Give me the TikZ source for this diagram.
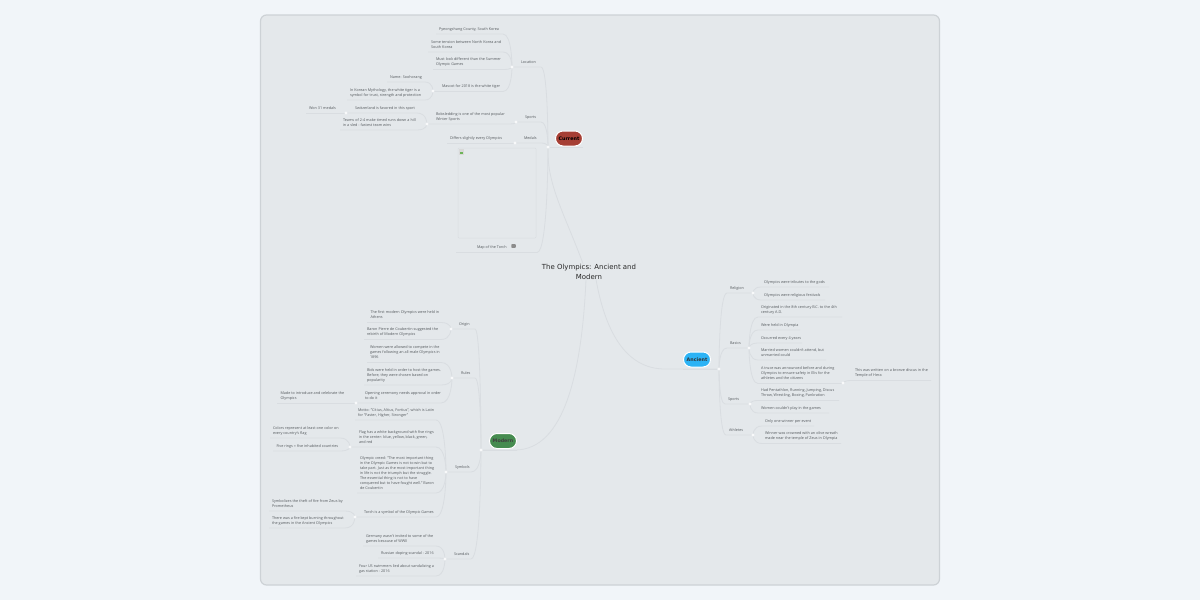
\documentclass[tikz,border=0pt]{standalone}
\usepackage{fontspec}
\setmainfont{Open Sans}
\newfontfamily\titlefont{DejaVu Sans}
\definecolor{pagebg}{HTML}{F1F5F9}
\definecolor{panelbg}{HTML}{E4E8EB}
\definecolor{panelline}{HTML}{CDD2D6}
\definecolor{linkc}{HTML}{D9DDE1}
\definecolor{leaftext}{HTML}{555A5E}
\definecolor{curfill}{HTML}{A63F35}
\definecolor{modfill}{HTML}{468C50}
\definecolor{ancfill}{HTML}{2CB3F5}
\pgfdeclarelayer{lines}
\pgfsetlayers{lines,main}
\tikzset{
  leaf/.style={inner xsep=0pt,inner ysep=2.1pt,outer sep=0pt,text=leaftext,font=\fontsize{3.75}{5}\selectfont},
  jdot/.style={circle,fill=white!75!panelbg,draw=none,inner sep=0pt,minimum size=3.4pt},
  link/.style={draw=linkc,line width=.8pt},
  branch/.style={rounded corners=7.5pt,draw=white,line width=1pt,minimum width=27pt,minimum height=15pt,inner sep=0pt,font=\titlefont\bfseries\fontsize{4.8}{7}\selectfont},
}
\newcommand\leafn[6]{%
  \pgfmathsetmacro\lw{#3-#2}\pgfmathsetmacro\lh{#5-#2}%
  \node[leaf,anchor=south west] (#1) at (#2,#4) {\makebox[\lw pt][l]{\hspace{\lh pt}\begin{tabular}{@{}l@{}}#6\end{tabular}}};}
\newcommand\jn[3]{\node[jdot] (#1) at (#2,#3) {};}
% link from a node's underline, running rightwards into a dot
\newcommand\lkr[2]{\draw[link] (#1.south west) -- (#1.south east) .. controls (#2 |- #1.south east) and (#2) .. (#2);}
% link running leftwards into a dot
\newcommand\lkl[2]{\draw[link] (#1.south east) -- (#1.south west) .. controls (#2 |- #1.south west) and (#2) .. (#2);}
\begin{document}
\begin{tikzpicture}[x=1pt,y=-1pt]
\useasboundingbox (0,0) rectangle (1200,600);
% dots
\jn{jc}{548}{147}\jn{jm}{481}{450}\jn{ja}{719}{369}
\jn{dloc}{512}{67}\jn{dsp}{516}{122}\jn{dmed}{515}{143}
\jn{dmas}{433}{91}\jn{dbob}{427}{124}\jn{dsw}{346}{113}
\jn{dori}{451}{329}\jn{drul}{452}{378}\jn{dsym}{446}{472}\jn{dsca}{445}{559}
\jn{dcer}{356}{403}\jn{dflag}{350}{447}\jn{dtor}{355}{517}
\jn{drel}{753}{293}\jn{dbas}{749}{348}\jn{dasp}{750}{404}\jn{dath}{753}{435}\jn{dtru}{843}{383}
% root and branches
\node[align=center,inner sep=0pt,text=black!85,font=\titlefont\fontsize{6.95}{10}\selectfont] (root) at (589,271.5) {The Olympics: Ancient and\\Modern};
\node[branch,fill=curfill,text=black] (cur) at (569,138.5) {Current};
\node[branch,fill=modfill,text=black!75] (mod) at (503,441) {Modern};
\node[branch,fill=ancfill,text=black!80] (anc) at (697,359.5) {Ancient};
% Current
\leafn{loc}{512}{541}{67}{521}{Location}
\leafn{spo}{516}{541}{122}{525}{Sports}
\leafn{med}{515}{541}{143}{524}{Medals}
\leafn{l1}{436}{503}{34}{439}{Pyeongchang County, South Korea}
\leafn{l2}{428}{503}{52}{431}{Some tension between North Korea and\\South Korea}
\leafn{l3}{433}{503}{69.5}{436}{Must look different than the Summer\\Olympic Games}
\leafn{l4}{433}{503}{91.5}{442}{Mascot for 2018 is the white tiger}
\leafn{l5}{387}{425}{82}{390}{Name: Soohorang}
\leafn{l6}{347}{425}{100}{350}{In Korean Mythology, the white tiger is a\\symbol for trust, strength and protection}
\leafn{l7}{427}{510}{124}{436}{Bobsledding is one of the most popular\\Winter Sports}
\leafn{l8}{346}{417}{113}{355}{Switzerland is favored in this sport}
\leafn{l9}{340}{417}{130}{343}{Teams of 2-4 make timed runs down a hill\\in a sled - fastest team wins}
\leafn{l10}{306}{346}{113}{309}{Won 31 medals}
\leafn{l11}{447}{515}{143}{450}{Differs slightly every Olympics}
\leafn{l12}{456}{537}{252.5}{477}{Map of the Torch}
\node[draw=linkc,line width=.5pt,inner sep=0pt,minimum width=78pt,minimum height=90pt,rounded corners=1pt] (img) at (497,193) {};
\node[fill=white!70!gray,inner sep=0pt,minimum width=5pt,minimum height=6pt] (brk) at (461.5,152) {};
\node[fill={rgb,255:red,110;green,180;blue,90},inner sep=0pt,minimum width=3.6pt,minimum height=2pt] (brk2) at (461.5,153.3) {};
\node[fill=gray!90,rounded corners=.6pt,inner sep=0pt,minimum width=4.5pt,minimum height=3.6pt] (ico) at (513.5,246) {};
% Modern
\leafn{ori}{451}{475}{329}{459}{Origin}
\leafn{rul}{452}{475}{378}{461}{Rules}
\leafn{sym}{446}{471}{472}{455}{Symbols}
\leafn{sca}{445}{471}{559}{454}{Scandals}
\leafn{m1}{367}{441}{322.5}{370.5}{The first modern Olympics were held in\\Athens}
\leafn{m2}{364}{441}{339.5}{367}{Baron Pierre de Coubertin suggested the\\rebirth of Modern Olympics}
\leafn{m3}{367}{441}{362.5}{370}{Women were allowed to compete in the\\games following an all-male Olympics in\\1896}
\leafn{m4}{364}{441}{385}{367}{Bids were held in order to host the games.\\Before, they were chosen based on\\popularity}
\leafn{m5}{356}{441}{403}{365}{Opening ceremony needs approval in order\\to do it}
\leafn{m6}{277}{356}{403}{280.5}{Made to introduce and celebrate the\\Olympics}
\leafn{m7}{355}{436}{420}{358}{Motto: "Citius, Altius, Fortius", which is Latin\\for "Faster, Higher, Stronger"}
\leafn{m8}{350}{436}{447}{359}{Flag has a white background with five rings\\in the center: blue, yellow, black, green,\\and red}
\leafn{m9}{270}{340}{438}{273}{Colors represent at least one color on\\every country's flag}
\leafn{m10}{273}{340}{451}{276.5}{Five rings = five inhabited countries}
\leafn{m11}{357}{436}{493}{360}{Olympic creed: "The most important thing\\in the Olympic Games is not to win but to\\take part. Just as the most important thing\\in life is not the triumph but the struggle.\\The essential thing is not to have\\conquered but to have fought well." Baron\\de Coubertin}
\leafn{m12}{355}{436}{517}{364}{Torch is a symbol of the Olympic Games}
\leafn{m13}{269}{345}{511}{272}{Symbolizes the theft of fire from Zeus by\\Prometheus}
\leafn{m14}{269}{345}{528}{272}{There was a fire kept burning throughout\\the games in the Ancient Olympics}
\leafn{m15}{363}{436}{546}{366}{Germany wasn't invited to some of the\\games because of WWII}
\leafn{m16}{378}{436}{558}{381}{Russian doping scandal - 2016}
\leafn{m17}{356}{436}{576}{359}{Four US swimmers lied about vandalizing a\\gas station - 2016}
% Ancient
\leafn{rel}{727}{753}{293}{730}{Religion}
\leafn{bas}{727}{749}{348}{730}{Basics}
\leafn{asp}{725}{750}{404}{728}{Sports}
\leafn{ath}{726}{753}{435}{729}{Athletes}
\leafn{a1}{761}{829}{287}{764}{Olympics were tributes to the gods}
\leafn{a2}{761}{825}{300}{764}{Olympics were religious festivals}
\leafn{a3}{758}{842}{317}{761}{Originated in the 8th century B.C. to the 4th\\century A.D.}
\leafn{a4}{758}{800}{330}{761}{Were held in Olympia}
\leafn{a5}{758}{802}{343}{761}{Occurred every 4 years}
\leafn{a6}{758}{826}{360}{761}{Married women couldn't attend, but\\unmarried could}
\leafn{a7}{758}{843}{383.5}{761}{A truce was announced before and during\\Olympics to ensure safety in Elis for the\\athletes and the citizens}
\leafn{a8}{852}{931}{380.5}{855}{This was written on a bronze discus in the\\Temple of Hera}
\leafn{a9}{758}{839}{400.5}{761}{Had Pentathlon, Running, Jumping, Discus\\Throw, Wrestling, Boxing, Pankration}
\leafn{a10}{758}{829}{413}{761}{Women couldn't play in the games}
\leafn{a11}{762}{814}{426}{765}{Only one winner per event}
\leafn{a12}{762}{841}{443.5}{765}{Winner was crowned with an olive wreath\\made near the temple of Zeus in Olympia}
\begin{pgfonlayer}{lines}
\fill[pagebg] (0,0) rectangle (1200,600);
\draw[panelline,fill=panelbg,line width=1.2pt,rounded corners=6pt] (260.5,15) rectangle (939.5,585);
% root links
\draw[link] ([xshift=-6pt]root.north) .. controls (565,215) and (547,185) .. (jc);
\draw[link] ([xshift=-3pt]root.south) .. controls (582,370) and (565,450) .. (515,450) -- (jm);
\draw[link] ([xshift=7pt]root.south) .. controls (605,330) and (625,369) .. (665,369) -- (ja);
\draw[link] (jc) -- (jc -| cur.south east);
\draw[link] (jm) -- (jm -| mod.south east);
\draw[link] (ja) -- (ja -| anc.south west);
% Current links
\lkr{loc}{jc}\lkr{spo}{jc}\lkr{med}{jc}\lkr{l12}{jc}
\lkr{l1}{dloc}\lkr{l2}{dloc}\lkr{l3}{dloc}\lkr{l4}{dloc}
\lkr{l5}{dmas}\lkr{l6}{dmas}
\lkr{l7}{dsp}\lkr{l8}{dbob}\lkr{l9}{dbob}\lkr{l10}{dsw}\lkr{l11}{dmed}
% Modern links
\lkr{ori}{jm}\lkr{rul}{jm}\lkr{sym}{jm}\lkr{sca}{jm}
\lkr{m1}{dori}\lkr{m2}{dori}\lkr{m3}{drul}\lkr{m4}{drul}\lkr{m5}{drul}\lkr{m6}{dcer}
\lkr{m7}{dsym}\lkr{m8}{dsym}\lkr{m11}{dsym}\lkr{m12}{dsym}
\lkr{m9}{dflag}\lkr{m10}{dflag}\lkr{m13}{dtor}\lkr{m14}{dtor}
\lkr{m15}{dsca}\lkr{m16}{dsca}\lkr{m17}{dsca}
% Ancient links
\lkl{rel}{ja}\lkl{bas}{ja}\lkl{asp}{ja}\lkl{ath}{ja}
\lkl{a1}{drel}\lkl{a2}{drel}
\lkl{a3}{dbas}\lkl{a4}{dbas}\lkl{a5}{dbas}\lkl{a6}{dbas}\lkl{a7}{dbas}
\lkl{a8}{dtru}
\lkl{a9}{dasp}\lkl{a10}{dasp}\lkl{a11}{dath}\lkl{a12}{dath}
\end{pgfonlayer}
\end{tikzpicture}
\end{document}
